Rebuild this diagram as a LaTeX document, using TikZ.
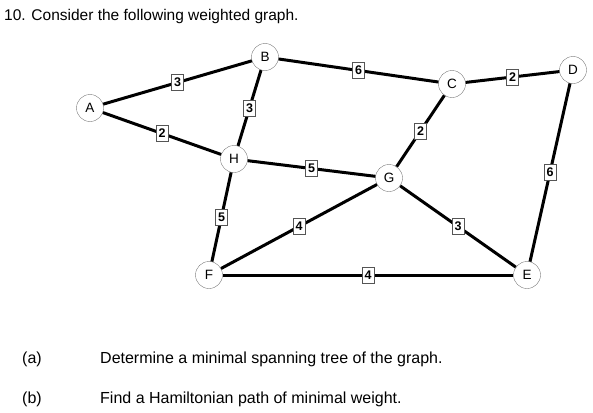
\documentclass[tikz,border=0pt]{standalone}
\usepackage{fontspec}
\setmainfont{Liberation Sans}
\usetikzlibrary{positioning}
\definecolor{grisnodo}{HTML}{7A7A7A}
\definecolor{grispeso}{HTML}{555555}
\tikzset{
  every picture/.style={x=1pt, y=-1pt},
  vert/.style={circle, draw=grisnodo, fill=white, thin, minimum size=27pt, inner sep=0pt,
               font=\fontsize{13.5}{15}\selectfont},
  arista/.style={line width=3pt, black},
  peso/.style={draw=grispeso, fill=white, line width=0.9pt, inner sep=1pt, minimum width=12pt,
               minimum height=16pt, font=\fontsize{12.5}{14}\selectfont\bfseries},
  texto/.style={anchor=base west, inner sep=0pt, font=\fontsize{15.5}{18}\selectfont},
}
\begin{document}
\begin{tikzpicture}
  \useasboundingbox (0,0) rectangle (593,412);
  % title
  \node[texto] (titulo) at (4,21) {10. Consider the following weighted graph.};
  % vertices
  \node[vert] (A) at (90,108) {A};
  \node[vert] (B) at (265,57) {B};
  \node[vert] (C) at (452,84) {C};
  \node[vert] (D) at (573,70) {D};
  \node[vert] (H) at (234,159) {H};
  \node[vert] (G) at (389,178) {G};
  \node[vert] (F) at (209,275) {F};
  \node[vert] (E) at (527,275) {E};
  % edges with weights
  \draw[arista] (A) -- node[peso] {3} (B);
  \draw[arista] (A) -- node[peso] {2} (H);
  \draw[arista] (B) -- node[peso] {3} (H);
  \draw[arista] (B) -- node[peso] {6} (C);
  \draw[arista] (C) -- node[peso] {2} (D);
  \draw[arista] (C) -- node[peso] {2} (G);
  \draw[arista] (H) -- node[peso] {5} (G);
  \draw[arista] (H) -- node[peso] {5} (F);
  \draw[arista] (G) -- node[peso] {4} (F);
  \draw[arista] (G) -- node[peso] {3} (E);
  \draw[arista] (F) -- node[peso] {4} (E);
  \draw[arista] (D) -- node[peso] {6} (E);
  % questions
  \node[texto, font=\fontsize{16}{18}\selectfont] (pa) at (22,363) {(a)};
  \node[texto, font=\fontsize{16}{18}\selectfont] (qa) at (100,363) {Determine a minimal spanning tree of the graph.};
  \node[texto, font=\fontsize{16}{18}\selectfont] (pb) at (22,403) {(b)};
  \node[texto, font=\fontsize{16}{18}\selectfont] (qb) at (100,403) {Find a Hamiltonian path of minimal weight.};
\end{tikzpicture}
\end{document}
